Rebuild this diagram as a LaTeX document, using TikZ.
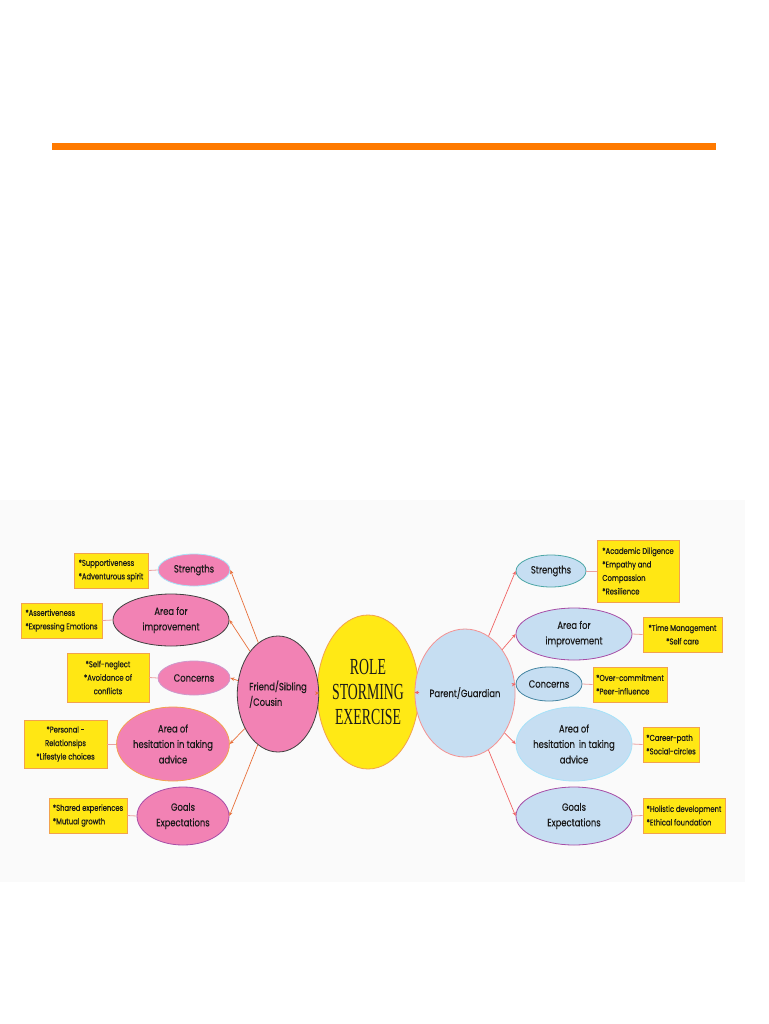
\documentclass[tikz,border=0pt]{standalone}
\usepackage{fontspec}
\usetikzlibrary{shapes.geometric,arrows.meta}
\newfontfamily\dfont[FakeStretch=0.8,FakeBold=0.3]{Poppins}
\newfontfamily\cfont[FakeStretch=0.6]{Liberation Serif}
\definecolor{barorange}{HTML}{FF7A00}
\definecolor{pinkfill}{HTML}{F282B4}
\definecolor{bluefill}{HTML}{C6DEF2}
\definecolor{yelfill}{HTML}{FFE915}
\definecolor{boxfill}{HTML}{FFE714}
\definecolor{boxborder}{HTML}{F2A24E}
\definecolor{arrL}{HTML}{E8703A}
\definecolor{arrR}{HTML}{F06464}
\definecolor{linkc}{HTML}{EBA0A0}
\definecolor{txt}{HTML}{1A1A1A}
\tikzset{
  bub/.style={ellipse, draw, line width=0.8pt, inner sep=0pt, align=center, text=txt,
    font=\dfont\fontsize{10.5}{15.5}\selectfont},
  lbub/.style={bub, fill=pinkfill},
  rbub/.style={bub, fill=bluefill},
  infobox/.style={rectangle, draw=boxborder, fill=boxfill, line width=0.8pt, inner sep=2pt,
    text=txt, font=\dfont\fontsize{8.5}{13.5}\selectfont},
  larr/.style={draw=arrL, line width=0.7pt, -{Stealth[length=4pt,width=3.5pt]}},
  rarr/.style={draw=arrR, line width=0.7pt, -{Stealth[length=4pt,width=3.5pt]}},
  link/.style={draw=linkc, line width=0.8pt}
}
\begin{document}
\begin{tikzpicture}[x=1pt,y=-1pt]
\useasboundingbox (0,0) rectangle (768,1024);
\fill[white] (0,0) rectangle (768,1024);
\fill[barorange] (52,143) rectangle (716,150);
\fill[black!2] (0,500) rectangle (745,882);

% centre
\node[ellipse, draw=boxborder, fill=yelfill, line width=0.8pt, minimum width=97pt, minimum height=154pt,
  inner sep=0pt, align=center, text=txt, font=\cfont\fontsize{23}{25}\selectfont] (role) at (368,692)
  {ROLE\\STORMING\\EXERCISE};
\node[lbub, draw=black!75, minimum width=74pt, minimum height=116pt, align=left] (friend) at (278,694)
  {Friend/Sibling\\/Cousin};
\node[rbub, draw=arrR!70, minimum width=82pt, minimum height=128pt] (parent) at (465,693)
  {Parent/Guardian};
\draw[larr] (role) -- (friend);
\draw[rarr] (role) -- (parent);

% left children
\node[lbub, draw=cyan!35, minimum width=72pt, minimum height=32pt] (ls) at (194,570) {Strengths};
\node[lbub, draw=black!75, minimum width=116pt, minimum height=52pt] (li) at (171,620) {Area for\\improvement};
\node[lbub, draw=violet!40, minimum width=72pt, minimum height=34pt] (lc) at (194,678) {Concerns};
\node[lbub, draw=boxborder, minimum width=112pt, minimum height=74pt] (lh) at (173,744) {Area of\\hesitation in taking\\advice};
\node[lbub, draw=violet!70, minimum width=92pt, minimum height=58pt] (lg) at (183,816) {Goals\\Expectations};

\foreach \c in {ls,li,lc,lh,lg}{\draw[larr] (friend) -- (\c.east);}

\node[infobox, minimum width=74pt, minimum height=35pt, align=left] (bls) at (111,570.5) {*Supportiveness\\*Adventurous spirit};
\node[infobox, minimum width=81pt, minimum height=35pt, align=left] (bli) at (61.5,620.5) {*Assertiveness\\*Expressing Emotions};
\node[infobox, minimum width=82pt, minimum height=49pt, align=center] (blc) at (108,677.5) {*Self-neglect\\*Avoidance of\\conflicts};
\node[infobox, minimum width=83pt, minimum height=48pt, align=center] (blh) at (65.5,744) {*Personal -\\Relationsips\\*Lifestyle choices};
\node[infobox, minimum width=78pt, minimum height=35pt, align=left] (blg) at (88,815.5) {*Shared experiences\\*Mutual growth};

\draw[link] (bls.east) -- (ls.west);
\draw[link] (bli.east) -- (li.west);
\draw[link] (blc.east) -- (lc.west);
\draw[link] (blh.east) -- (lh.west);
\draw[link] (blg.east) -- (lg.west);

% right children
\node[rbub, draw=teal!70, minimum width=70pt, minimum height=32pt] (rs) at (551,571) {Strengths};
\node[rbub, draw=violet!70, minimum width=116pt, minimum height=52pt] (ri) at (574,634) {Area for\\improvement};
\node[rbub, draw=cyan!60!black, minimum width=66pt, minimum height=34pt] (rc) at (549,684) {Concerns};
\node[rbub, draw=cyan!35, minimum width=116pt, minimum height=74pt] (rh) at (574,744) {Area of\\hesitation\, in taking\\advice};
\node[rbub, draw=violet!70, minimum width=116pt, minimum height=58pt] (rg) at (574,816) {Goals\\Expectations};

\foreach \c in {rs,ri,rc,rh,rg}{\draw[rarr] (parent) -- (\c.west);}

\node[infobox, minimum width=82pt, minimum height=62pt, align=left] (brs) at (638,571) {*Academic Diligence\\*Empathy and\\Compassion\\*Resilience};
\node[infobox, minimum width=79pt, minimum height=35pt, align=center] (bri) at (682.5,634.5) {*Time Management\\*Self care};
\node[infobox, minimum width=74pt, minimum height=35pt, align=left] (brc) at (630,684.5) {*Over-commitment\\*Peer-influence};
\node[infobox, minimum width=56pt, minimum height=35pt, align=left] (brh) at (671,744.5) {*Career-path\\*Social-circles};
\node[infobox, minimum width=82pt, minimum height=35pt, align=left] (brg) at (684,815.5) {*Holistic development\\*Ethical foundation};

\draw[link] (rs.east) -- (brs.west);
\draw[link] (ri.east) -- (bri.west);
\draw[link] (rc.east) -- (brc.west);
\draw[link] (rh.east) -- (brh.west);
\draw[link] (rg.east) -- (brg.west);
\end{tikzpicture}
\end{document}
